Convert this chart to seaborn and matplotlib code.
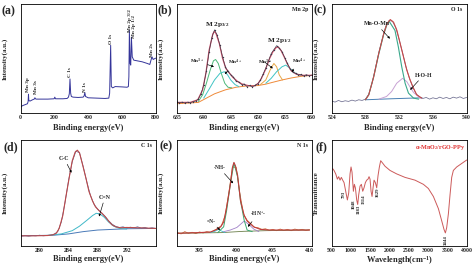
import matplotlib
matplotlib.use("Agg")
import matplotlib.pyplot as plt
import seaborn as sns

# ---------------- data ----------------
# (a) survey
a_be = [0, 10, 25, 40, 44, 46, 48, 55, 70, 80, 84, 90, 120, 160, 198, 202, 206, 250, 275, 283, 288, 292,
        296, 300, 310, 340, 370, 376, 380, 384, 400, 450, 500, 522, 527, 533, 537, 545, 560, 600, 630, 638,
        641, 644, 648, 652, 656, 661, 670, 690, 720, 750, 765, 772, 778, 785, 795, 800]
a_int = [18, 22, 25, 28, 35, 57, 38, 36, 40, 42, 46, 42, 42, 42, 43, 48, 43, 43, 44, 48, 58, 103,
         60, 50, 48, 47, 48, 52, 62, 50, 46, 45, 44, 45, 60, 205, 80, 76, 80, 79, 78, 80,
         110, 250, 150, 145, 230, 170, 160, 158, 155, 150, 147, 160, 170, 162, 165, 166]
a_labels = ["Mn 3p", "Mn 3s", "C 1s", "N 1s", "O 1s", "Mn 2p 3/2", "Mn 2p 1/2", "Mn 2s"]
a_lab_x = [46, 92, 294, 380, 534, 646, 670, 780]
a_lab_y = [64, 58, 108, 64, 208, 246, 226, 170]

# (b) Mn 2p
b_env_x = [635.0, 636.5, 637.5, 638.9, 639.8, 640.4, 641.0, 641.7, 642.0, 642.3, 642.9, 643.5, 644.1, 644.8,
           645.4, 646.3, 647.2, 648.5, 649.4, 650.1, 650.7, 651.4, 652.2, 652.8, 653.4, 653.8, 654.3, 654.9,
           655.6, 656.2, 657.1, 658.3, 660.0]
b_env_y = [32, 32, 32, 40, 70, 120, 190, 240, 247, 240, 210, 165, 135, 120, 108, 95, 87, 82, 82, 90, 105,
           130, 165, 185, 198, 200, 190, 170, 145, 128, 118, 114, 114]
b_raw_x = [635, 635.5, 636, 636.5, 637, 637.5, 638, 638.5, 639, 639.5, 640, 640.5, 641, 641.5, 642, 642.5,
           643, 643.5, 644, 644.5, 645, 645.5, 646, 646.5, 647, 647.5, 648, 648.5, 649, 649.5, 650, 650.5,
           651, 651.5, 652, 652.5, 653, 653.5, 654, 654.5, 655, 655.5, 656, 656.5, 657, 657.5, 658, 658.5,
           659, 659.5, 660]
b_raw_y = [34, 31, 33, 30, 33, 31, 34, 36, 42, 58, 85, 128, 185, 228, 252, 236, 205, 170, 140, 126, 116,
           109, 96, 94, 86, 88, 80, 84, 79, 84, 88, 99, 118, 136, 158, 180, 192, 204, 196, 186, 168, 150,
           134, 124, 120, 115, 117, 112, 116, 113, 115]
b_bg_x = [635, 639, 640.5, 642, 644, 646, 648, 650, 651.4, 652.8, 654.5, 656.2, 658, 660]
b_bg_y = [28, 32, 45, 58, 70, 78, 82, 83, 87, 93, 100, 106, 111, 114]
b_g_x = [639.0, 639.8, 640.5, 641.2, 641.8, 642.2, 642.7, 643.3, 643.9, 644.5, 645.2]
b_g_y = [35, 55, 90, 130, 158, 162, 150, 118, 90, 78, 76]
b_c1_x = [640.0, 641.0, 642.0, 643.0, 643.8, 644.4, 645.0, 645.8, 646.5]
b_c1_y = [45, 72, 100, 120, 125, 116, 100, 86, 80]
b_o2_x = [650.5, 651.5, 652.3, 653.0, 653.5, 654.0, 654.6]
b_o2_y = [86, 100, 130, 150, 140, 115, 100]
b_c2_x = [651.5, 652.5, 653.5, 654.5, 655.2, 656.0, 657.0, 658.0]
b_c2_y = [90, 105, 125, 140, 145, 135, 120, 113]

# (c) O 1s
c_raw_x = [524, 524.4, 524.8, 525.2, 525.6, 526, 526.4, 526.8, 527.2, 527.6, 528, 528.4, 528.8, 529.2, 529.6,
           530, 530.4, 530.8, 531.2, 531.6, 532, 532.4, 532.8, 533.2, 533.6, 534, 534.4, 534.8, 535.2, 535.6,
           536, 536.4, 536.8, 537.2, 537.6, 538, 538.4, 538.8, 539.2, 539.6, 540]
c_raw_y = [36, 33, 38, 34, 37, 35, 39, 36, 40, 38, 42, 57, 92, 138, 185, 225, 262, 280, 278, 258, 222, 182,
           140, 106, 80, 58, 49, 44, 47, 42, 46, 43, 48, 44, 47, 43, 48, 45, 49, 44, 47]
c_env_x = [528.0, 528.39, 528.98, 529.57, 530.16, 530.55, 530.94, 531.33, 531.73, 532.12, 532.51, 532.9,
           533.29, 533.69, 534.08, 534.67]
c_env_y = [40, 55, 110, 180, 240, 270, 283, 275, 250, 210, 170, 130, 100, 75, 55, 45]
c_g_x = [528.0, 528.39, 528.98, 529.57, 530.16, 530.55, 530.8, 531.5, 531.9, 532.3, 532.7, 533.1, 533.7, 534.3]
c_g_y = [40, 55, 110, 178, 238, 268, 278, 250, 200, 140, 90, 60, 45, 42]
c_h_x = [529.6, 530.5, 531.1, 531.7, 532.4, 532.9, 533.3, 533.7, 534.5]
c_h_y = [42, 50, 65, 90, 105, 95, 78, 62, 45]
c_bg_x = [528.0, 531.0, 534.7]
c_bg_y = [40, 43, 46]

# (d) C 1s
d_raw_x = [277.4, 278, 278.5, 279, 279.5, 280, 280.5, 281, 281.5, 282, 282.5, 283, 283.5, 284, 284.5, 285,
           285.5, 286, 286.5, 287, 287.5, 288, 288.5, 289, 289.5, 290, 290.5, 291, 291.5, 292, 292.5, 293,
           293.5, 294, 294.5, 295, 295.5, 296]
d_raw_y = [31, 33, 31, 33, 32, 34, 32, 33, 34, 37, 45, 75, 135, 205, 262, 295, 290, 248, 200, 158, 130, 115,
           104, 93, 79, 68, 61, 58, 60, 56, 59, 57, 60, 56, 58, 55, 57, 55]
d_env_x = [277.4, 279.3, 281.1, 281.8, 282.3, 282.7, 283.2, 283.6, 284.1, 284.5, 284.9, 285.2, 285.5, 285.9,
           286.4, 286.8, 287.3, 287.7, 288.2, 288.6, 289.1, 289.5, 290.0, 290.5, 291.1, 292.0, 293.4, 294.8, 296.0]
d_env_y = [32, 32, 33, 35, 40, 55, 95, 150, 215, 265, 292, 298, 290, 255, 210, 170, 140, 122, 110, 102, 90,
           78, 66, 60, 57, 58, 57, 56, 55]
d_c_x = [281.0, 283.0, 284.5, 285.5, 286.5, 287.3, 287.8, 288.3, 288.9, 289.5, 290.2, 291.0, 292.0]
d_c_y = [33, 38, 48, 62, 80, 95, 102, 100, 90, 75, 62, 55, 53]
d_bg_x = [277.4, 282.0, 284.0, 286.0, 288.0, 290.0, 292.0, 296.0]
d_bg_y = [32, 34, 38, 45, 50, 52, 54, 55]

# (e) N 1s
e_raw_x = [392, 392.5, 393, 393.5, 394, 394.5, 395, 395.5, 396, 396.5, 397, 397.5, 398, 398.5, 399, 399.5,
           400, 400.5, 401, 401.5, 402, 402.5, 403, 403.5, 404, 404.5, 405, 405.5, 406, 406.5, 407, 407.5,
           408, 408.5, 409, 409.5, 410]
e_raw_y = [42, 38, 45, 40, 43, 39, 44, 41, 45, 42, 49, 55, 64, 95, 165, 245, 245, 165, 100, 80, 70, 58, 57,
           52, 54, 49, 52, 48, 53, 49, 52, 48, 53, 50, 52, 49, 51]
e_env_x = [392.0, 395.0, 396.5, 397.2, 397.9, 398.3, 398.7, 399.2, 399.5, 399.7, 399.9, 400.2, 400.6, 401.1,
           401.5, 402.0, 402.4, 403.3, 404.6, 410.0]
e_env_y = [40, 42, 44, 50, 60, 75, 120, 190, 245, 260, 250, 220, 140, 95, 78, 68, 60, 52, 50, 50]
e_g_x = [397.5, 398.3, 398.7, 399.2, 399.7, 400.2, 400.6, 401.1, 401.5, 402.2]
e_g_y = [42, 60, 110, 190, 258, 215, 140, 80, 50, 45]
e_p_x = [398.3, 399.2, 400.1, 400.8, 401.1, 401.7, 402.4, 403.1]
e_p_y = [45, 50, 58, 72, 78, 68, 53, 45]
e_c_x = [396.5, 397.1, 397.6, 398.0, 398.5]
e_c_y = [42, 46, 52, 47, 42]
e_bg_x = [392, 398, 401, 404, 410]
e_bg_y = [40, 42, 46, 48, 50]

# (f) FTIR
f_wn = [526, 560, 604, 647, 681, 716, 750, 785, 820, 863, 906, 941, 975, 1001, 1027, 1062, 1088, 1114, 1148,
        1174, 1200, 1235, 1269, 1304, 1338, 1373, 1407, 1442, 1468, 1494, 1520, 1546, 1572, 1598, 1632, 1667,
        1701, 1736, 1770, 1814, 1883, 2012, 2185, 2401, 2660, 2877, 3006, 3136, 3266, 3352, 3412, 3447, 3481,
        3525, 3568, 3611, 3654, 3741, 3870, 4000]
f_t = [223, 218, 208, 193, 200, 190, 198, 190, 183, 158, 133, 153, 208, 228, 213, 158, 178, 168, 133, 120,
       148, 173, 178, 158, 168, 183, 190, 193, 200, 193, 158, 143, 168, 190, 183, 168, 203, 228, 246, 240,
       230, 218, 208, 198, 190, 178, 166, 143, 108, 73, 48, 38, 53, 93, 148, 198, 218, 228, 238, 248]
f_labels = ["793", "1048", "1183", "1314", "1629", "3444"]
f_lab_x = [802, 1079, 1209, 1338, 1692, 3464]
f_lab_y = [160, 133, 118, 150, 168, 33]

# ---------------- style ----------------
sns.set_theme(style="white")
plt.rcParams["font.family"] = ["Liberation Serif", "DejaVu Serif"]
plt.rcParams["font.weight"] = "bold"
plt.rcParams["axes.labelweight"] = "bold"
plt.rcParams["mathtext.fontset"] = "custom"
plt.rcParams["mathtext.rm"] = "Liberation Serif:bold"
plt.rcParams["mathtext.it"] = "Liberation Serif:italic:bold"
plt.rcParams["mathtext.bf"] = "Liberation Serif:bold"

fig = plt.figure(figsize=(4.74, 2.69), dpi=100)
W = 0.2848
lefts = [0.0437, 0.3728, 0.6998]
axs = []
for row, (b, h) in enumerate([(0.580, 0.405), (0.085, 0.395)]):
    for l in lefts:
        axs.append(fig.add_axes([l, b, W, h]))


def line(ax, x, y, color, lw=0.7, **kw):
    sns.lineplot(x=x, y=y, ax=ax, color=color, linewidth=lw, estimator=None, errorbar=None, **kw)


def style(ax, xlim, xticks, ylim, ylabel, xlabel="Binding energy(eV)", xl_off=-0.10):
    ax.set_xlim(*xlim)
    ax.set_ylim(*ylim)
    ax.set_xticks(xticks)
    ax.set_yticks([])
    ax.tick_params(axis="x", direction="in", length=2, width=0.5, pad=1.5, labelsize=4.2)
    for lab in ax.get_xticklabels():
        lab.set_fontweight("bold")
    for s in ax.spines.values():
        s.set_color("black")
        s.set_linewidth(0.6)
    ax.set_ylabel(ylabel, fontsize=5, fontweight="bold")
    ax.set_xlabel(xlabel, fontsize=6, fontweight="bold")
    ax.yaxis.set_label_coords(-0.094, 0.5)
    ax.xaxis.set_label_coords(0.5, xl_off)


arrow = dict(arrowstyle="-|>", lw=0.45, color="black", mutation_scale=3, shrinkA=0, shrinkB=0)
small = 3.8

# (a)
ax = axs[0]
line(ax, a_be, a_int, "#35359a", 0.7)
for t, x, y in zip(a_labels, a_lab_x, a_lab_y):
    ax.text(x, y, t, rotation=90, ha="center", va="bottom", fontsize=3.8, fontweight="bold")
style(ax, (0, 800), [0, 200, 400, 600, 800], (0, 330), "Intensity(a.u.)")

# (b)
ax = axs[1]
line(ax, b_bg_x, b_bg_y, "#ef8a3a", 0.7)
line(ax, b_g_x, b_g_y, "#4cb878", 0.7)
line(ax, b_c1_x, b_c1_y, "#40c4c4", 0.7)
line(ax, b_o2_x, b_o2_y, "#e8a848", 0.7)
line(ax, b_c2_x, b_c2_y, "#40c4c4", 0.7)
line(ax, b_env_x, b_env_y, "#d05068", 0.9)
line(ax, b_raw_x, b_raw_y, "#3c3c4c", 0.45, marker="o", markersize=1.0, markeredgewidth=0)
ax.text(659.3, 312, "Mn 2p", ha="right", va="center", fontsize=4.2, fontweight="bold")
ax.text(642.5, 268, "M 2p$_{3/2}$", ha="center", va="center", fontsize=5.2)
ax.text(654.0, 220, "M 2p$_{1/2}$", ha="center", va="center", fontsize=5.2)
ax.annotate("Mn$^{3+}$", xy=(641.9, 140), xytext=(638.8, 157), fontsize=small, ha="center", va="center",
            arrowprops=arrow)
ax.annotate("Mn$^{4+}$", xy=(643.9, 118), xytext=(645.9, 152), fontsize=small, ha="center", va="center",
            arrowprops=arrow)
ax.annotate("Mn$^{3+}$", xy=(652.8, 135), xytext=(651.3, 154), fontsize=small, ha="center", va="center",
            arrowprops=arrow)
ax.annotate("Mn$^{4+}$", xy=(656.3, 124), xytext=(657.7, 157), fontsize=small, ha="center", va="center",
            arrowprops=arrow)
style(ax, (635, 660), [635, 640, 645, 650, 655, 660], (0, 330), "Intensity(a.u.)")

# (c)
ax = axs[2]
line(ax, c_raw_x, c_raw_y, "#6e6e90", 0.55)
line(ax, c_bg_x, c_bg_y, "#4a80b4", 0.7)
line(ax, c_h_x, c_h_y, "#c8a2d4", 0.7)
line(ax, c_g_x, c_g_y, "#3aa88c", 0.8)
line(ax, c_env_x, c_env_y, "#c84848", 0.8)
ax.text(539.5, 312, "O 1s", ha="right", va="center", fontsize=4.2, fontweight="bold")
ax.annotate("Mn-O-Mn", xy=(530.9, 225), xytext=(529.3, 270), fontsize=4.2, ha="center", va="center",
            arrowprops=arrow)
ax.annotate("H-O-H", xy=(533.3, 70), xytext=(534.9, 115), fontsize=4.2, ha="center", va="center",
            arrowprops=arrow)
style(ax, (524, 540), [524, 528, 532, 536, 540], (0, 330), "Intensity(a.u.)")

# (d)
ax = axs[3]
line(ax, d_raw_x, d_raw_y, "#55659a", 0.55)
line(ax, d_bg_x, d_bg_y, "#4a7ab8", 0.7)
line(ax, d_c_x, d_c_y, "#40b8c8", 0.7)
line(ax, d_env_x, d_env_y, "#bd4a4a", 0.8)
ax.text(295.5, 312, "C 1s", ha="right", va="center", fontsize=4.2, fontweight="bold")
ax.annotate("C-C", xy=(284.4, 228), xytext=(283.4, 272), fontsize=4.2, ha="center", va="center",
            arrowprops=arrow)
ax.annotate("C=N", xy=(288.2, 92), xytext=(289.0, 152), fontsize=4.2, ha="center", va="center",
            arrowprops=arrow)
style(ax, (277.4, 296), [280, 284, 288, 292], (0, 330), "Intensity(a.u.)", xl_off=-0.085)

# (e)
ax = axs[4]
line(ax, e_raw_x, e_raw_y, "#c8703c", 0.6)
line(ax, e_bg_x, e_bg_y, "#6b7f4a", 0.6)
line(ax, e_c_x, e_c_y, "#40c0d0", 0.6)
line(ax, e_p_x, e_p_y, "#a080c8", 0.6)
line(ax, e_g_x, e_g_y, "#3aa870", 0.7)
line(ax, e_env_x, e_env_y, "#c03c3c", 0.8)
ax.text(409.8, 312, "N 1s", ha="right", va="center", fontsize=4.2, fontweight="bold")
ax.annotate("-NH-", xy=(399.6, 195), xytext=(397.7, 243), fontsize=4.0, ha="center", va="center",
            arrowprops=arrow)
ax.annotate("-HN$^{+}$-", xy=(401.6, 60), xytext=(403.0, 100), fontsize=4.0, ha="center", va="center",
            arrowprops=arrow)
ax.annotate("=N-", xy=(397.8, 50), xytext=(396.6, 77), fontsize=4.0, ha="center", va="center",
            arrowprops=arrow)
style(ax, (391.9, 410.3), [395, 400, 405, 410], (0, 330), "Intensity(a.u.)", xl_off=-0.085)

# (f)
ax = axs[5]
line(ax, f_wn, f_t, "#cc5a5a", 0.7)
for t, x, y in zip(f_labels, f_lab_x, f_lab_y):
    ax.text(x, y, t, rotation=90, ha="center", va="top", fontsize=3.4, fontweight="bold")
ax.text(3950, 283, "α-MnO$_2$/rGO-PPy", ha="right", va="center", fontsize=4.4, color="#e03030",
        fontweight="bold")
style(ax, (500, 4000), [500, 1000, 1500, 2000, 2500, 3000, 3500, 4000], (0, 306), "Transmittance",
      xlabel="Wavelength(cm$^{-1}$)", xl_off=-0.075)

# panel letters
for t, x, y in [("(a)", 2, 5), ("(b)", 157, 4), ("(c)", 314, 4), ("(d)", 3, 141), ("(e)", 159, 140),
                ("(f)", 315, 141)]:
    fig.text(x / 474, 1 - y / 269, t, ha="left", va="top", fontsize=8.5, fontweight="bold")

fig.savefig("out.png", dpi=100)
